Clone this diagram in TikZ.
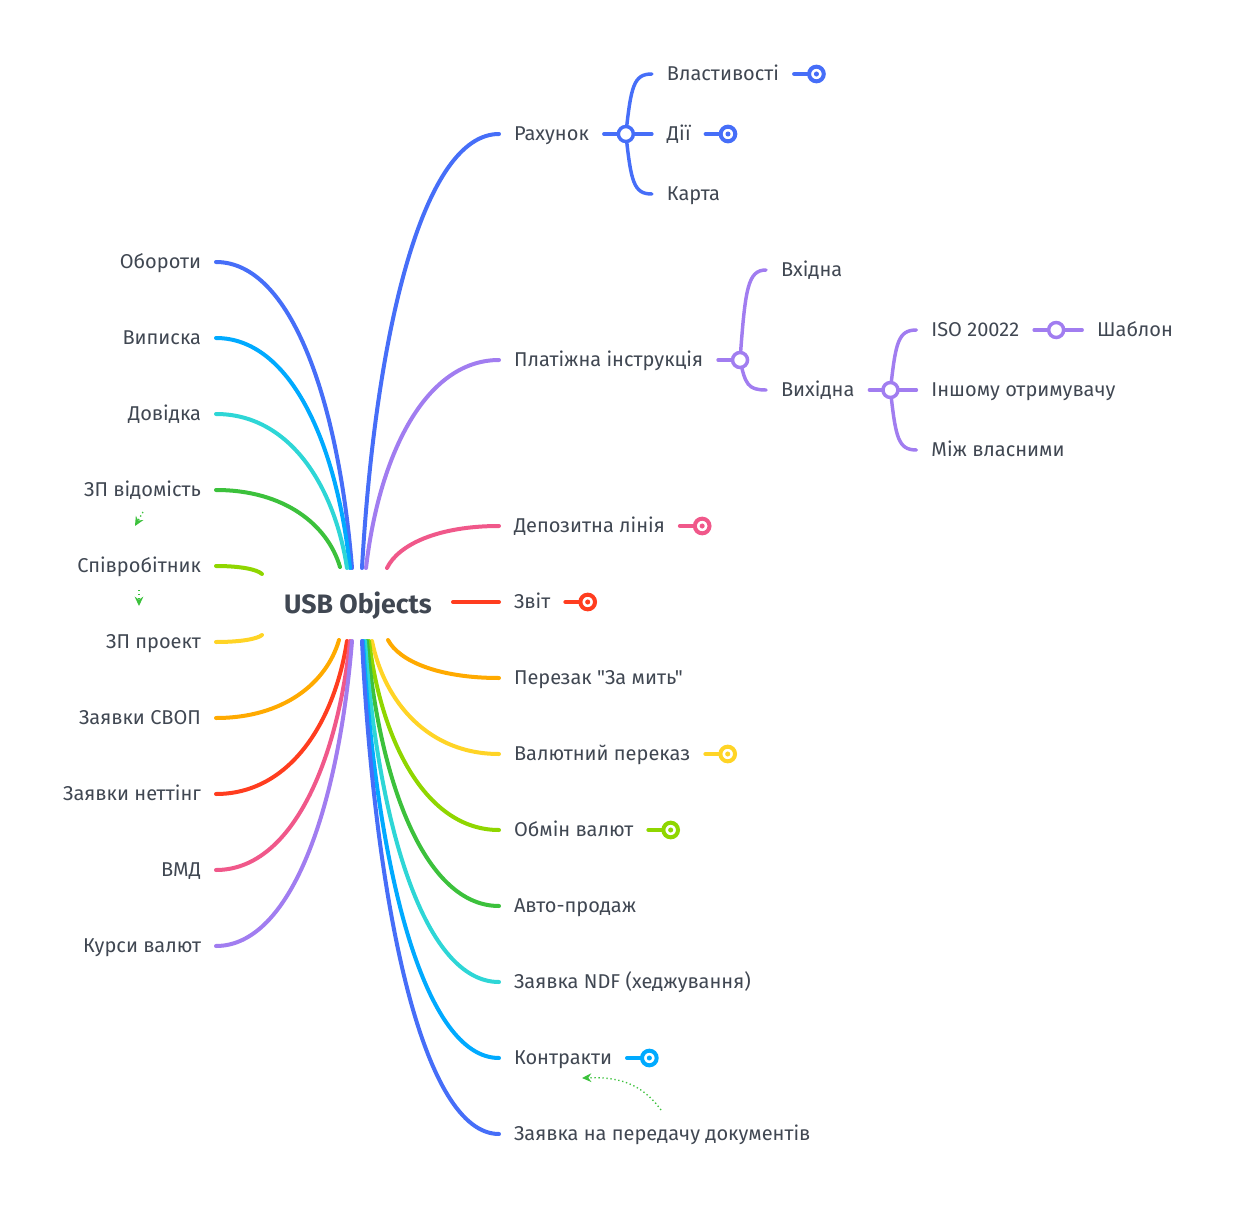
\documentclass[tikz,border=0pt]{standalone}
\usepackage{fontspec}
\setmainfont{Fira Sans}[Ligatures=TeXOff]
\usetikzlibrary{calc,arrows.meta}

\definecolor{mmblue}{RGB}{70,110,248}
\definecolor{mmsky}{RGB}{0,170,255}
\definecolor{mmteal}{RGB}{46,214,214}
\definecolor{mmgreen}{RGB}{60,193,60}
\definecolor{mmlime}{RGB}{143,214,0}
\definecolor{mmyellow}{RGB}{255,212,38}
\definecolor{mmorange}{RGB}{255,170,0}
\definecolor{mmred}{RGB}{255,61,31}
\definecolor{mmpink}{RGB}{240,88,138}
\definecolor{mmpurple}{RGB}{161,125,240}
\definecolor{txtgray}{RGB}{64,71,82}

\tikzset{
  branch/.style={line width=3pt, line cap=round},
  subbranch/.style={line width=2.6pt, line cap=round},
  topic/.style={font=\fontsize{15}{18}\selectfont, text=txtgray, inner xsep=11.25pt,
    inner ysep=0pt, outer sep=0pt, text height=10pt, text depth=0pt},
  rootnode/.style={font=\fontsize{20}{24}\selectfont\bfseries, text=txtgray,
    text height=13.5pt, text depth=0pt},
  hubring/.style={circle, fill=white, line width=2.6pt, minimum size=11.25pt,
    inner sep=0pt, outer sep=0pt},
  foldring/.style={circle, fill=white, line width=3pt, minimum size=11pt,
    inner sep=0pt, outer sep=0pt},
  rel/.style={mmgreen, line width=1pt, dotted, -{Stealth[length=7pt,width=6.5pt]}},
}

% curve from the root to a topic
\newcommand\branchto[3]{%
  \draw[branch, #1] let \p1=(#2), \p2=(#3) in
    (\p1) .. controls ({\x1+0.1*(\x2-\x1)}, {\y1+0.55*(\y2-\y1)})
              and ({\x2-0.55*(\x2-\x1)}, \y2) .. (\p2);}
% curve from a hub to a subtopic
\newcommand\subto[3]{%
  \draw[subbranch, #1] let \p1=(#2), \p2=(#3) in
    (\p1) .. controls ({\x1+0.2*(\x2-\x1)}, {\y1+0.8*(\y2-\y1)})
              and ({\x1+0.3*(\x2-\x1)}, \y2) .. (\p2);}
% collapsed marker after a topic
\newcommand\foldmark[3]{%
  \draw[branch, #1] (#2.east) -- ++(15,0) node[foldring, draw=#1, anchor=west] (#3) {};
  \fill[#1] (#3) circle (1.9pt);}

\begin{document}
\begin{tikzpicture}[x=0.75pt, y=-0.75pt]
  \useasboundingbox (0,0) rectangle (1233,1210);

  % Root
  \node[rootnode] (root) at (358,604) {USB Objects};

  % Ends of the branches at the root
  \coordinate (c-oborot) at (352,568);
  \coordinate (c-vypys) at (350,568);
  \coordinate (c-dovid) at (347,568);
  \coordinate (c-zpvid) at (340,567);
  \coordinate (c-spivr) at (262,574);
  \coordinate (c-zpproj) at (262,635);
  \coordinate (c-svop) at (339,640);
  \coordinate (c-net) at (347,641);
  \coordinate (c-vmd) at (350,641);
  \coordinate (c-kursy) at (352,641);
  \coordinate (c-rakh) at (362,568);
  \coordinate (c-plat) at (366,568);
  \coordinate (c-depoz) at (387,568);
  \coordinate (c-zvit) at (453,602);
  \coordinate (c-perez) at (388,640);
  \coordinate (c-valut) at (372,641);
  \coordinate (c-obmin) at (369,641);
  \coordinate (c-avto) at (367,641);
  \coordinate (c-ndf) at (365,641);
  \coordinate (c-kontr) at (363,641);
  \coordinate (c-doc) at (362,641);

  % Topics on the left
  \node[topic, anchor=east] (oboroty) at (216,262) {Обороти};
  \node[topic, anchor=east] (vypyska) at (216,338) {Виписка};
  \node[topic, anchor=east] (dovidka) at (216,414) {Довідка};
  \node[topic, anchor=east] (zpvid) at (216,490) {ЗП відомість};
  \node[topic, anchor=east] (spivr) at (216,566) {Співробітник};
  \node[topic, anchor=east] (zpproj) at (216,642) {ЗП проект};
  \node[topic, anchor=east] (svop) at (216,718) {Заявки СВОП};
  \node[topic, anchor=east] (netting) at (216,794) {Заявки неттінг};
  \node[topic, anchor=east] (vmd) at (216,870) {ВМД};
  \node[topic, anchor=east] (kursy) at (216,946) {Курси валют};

  % Topics on the right
  \node[topic, anchor=west] (rakhunok) at (499,134) {Рахунок};
  \node[topic, anchor=west] (plat) at (499,360) {Платіжна інструкція};
  \node[topic, anchor=west] (depoz) at (499,526) {Депозитна лінія};
  \node[topic, anchor=west] (zvit) at (499,602) {Звіт};
  \node[topic, anchor=west] (perez) at (499,678) {Перезак "За мить"};
  \node[topic, anchor=west] (valut) at (499,754) {Валютний переказ};
  \node[topic, anchor=west] (obmin) at (499,830) {Обмін валют};
  \node[topic, anchor=west] (avto) at (499,906) {Авто-продаж};
  \node[topic, anchor=west] (ndf) at (499,982) {Заявка NDF (хеджування)};
  \node[topic, anchor=west] (kontr) at (499,1058) {Контракти};
  \node[topic, anchor=west] (docs) at (499,1134) {Заявка на передачу документів};

  % Branches
  \branchto{mmblue}{c-oborot}{oboroty.east}
  \branchto{mmsky}{c-vypys}{vypyska.east}
  \branchto{mmteal}{c-dovid}{dovidka.east}
  \branchto{mmgreen}{c-zpvid}{zpvid.east}
  \branchto{mmlime}{c-spivr}{spivr.east}
  \branchto{mmyellow}{c-zpproj}{zpproj.east}
  \branchto{mmorange}{c-svop}{svop.east}
  \branchto{mmred}{c-net}{netting.east}
  \branchto{mmpink}{c-vmd}{vmd.east}
  \branchto{mmpurple}{c-kursy}{kursy.east}
  \branchto{mmblue}{c-rakh}{rakhunok.west}
  \branchto{mmpurple}{c-plat}{plat.west}
  \branchto{mmpink}{c-depoz}{depoz.west}
  \branchto{mmred}{c-zvit}{zvit.west}
  \branchto{mmorange}{c-perez}{perez.west}
  \branchto{mmyellow}{c-valut}{valut.west}
  \branchto{mmlime}{c-obmin}{obmin.west}
  \branchto{mmgreen}{c-avto}{avto.west}
  \branchto{mmteal}{c-ndf}{ndf.west}
  \branchto{mmsky}{c-kontr}{kontr.west}
  \branchto{mmblue}{c-doc}{docs.west}

  % Рахунок
  \coordinate (hubr) at ($(rakhunok.east)+(22,0)$);
  \node[topic, anchor=west] (vlast) at ($(hubr)+(26,-60)$) {Властивості};
  \node[topic, anchor=west] (dii) at ($(hubr)+(26,0)$) {Дії};
  \node[topic, anchor=west] (karta) at ($(hubr)+(26,60)$) {Карта};
  \draw[subbranch, mmblue] (rakhunok.east) -- (hubr);
  \subto{mmblue}{hubr}{vlast.west}
  \subto{mmblue}{hubr}{dii.west}
  \subto{mmblue}{hubr}{karta.west}
  \node[hubring, draw=mmblue] (hubr-o) at (hubr) {};
  \foldmark{mmblue}{vlast}{vlast-f}
  \foldmark{mmblue}{dii}{dii-f}

  % Платіжна інструкція
  \coordinate (hubp) at ($(plat.east)+(22,0)$);
  \node[topic, anchor=west] (vkhid) at ($(hubp)+(26,-90)$) {Вхідна};
  \node[topic, anchor=west] (vykhid) at ($(hubp)+(26,30)$) {Вихідна};
  \coordinate (hubv) at ($(vykhid.east)+(21,0)$);
  \node[topic, anchor=west] (iso) at ($(hubv)+(26,-60)$) {ISO 20022};
  \node[topic, anchor=west] (inshomu) at ($(hubv)+(26,0)$) {Іншому отримувачу};
  \node[topic, anchor=west] (mizh) at ($(hubv)+(26,60)$) {Між власними};
  \coordinate (hubi) at ($(iso.east)+(22,0)$);
  \node[topic, anchor=west] (shablon) at ($(hubi)+(26,0)$) {Шаблон};
  \draw[subbranch, mmpurple] (plat.east) -- (hubp);
  \subto{mmpurple}{hubp}{vkhid.west}
  \subto{mmpurple}{hubp}{vykhid.west}
  \draw[subbranch, mmpurple] (vykhid.east) -- (hubv);
  \subto{mmpurple}{hubv}{iso.west}
  \subto{mmpurple}{hubv}{inshomu.west}
  \subto{mmpurple}{hubv}{mizh.west}
  \draw[subbranch, mmpurple] (iso.east) -- (hubi) -- (shablon.west);
  \node[hubring, draw=mmpurple] (hubp-o) at (hubp) {};
  \node[hubring, draw=mmpurple] (hubv-o) at (hubv) {};
  \node[hubring, draw=mmpurple] (hubi-o) at (hubi) {};

  % Collapsed topics
  \foldmark{mmpink}{depoz}{depoz-f}
  \foldmark{mmred}{zvit}{zvit-f}
  \foldmark{mmyellow}{valut}{valut-f}
  \foldmark{mmlime}{obmin}{obmin-f}
  \foldmark{mmsky}{kontr}{kontr-f}

  % Relationships
  \coordinate (r1a) at (143,512);
  \coordinate (r1b) at (135,526);
  \coordinate (r2a) at (139,590);
  \coordinate (r2b) at (139,606);
  \coordinate (r3a) at (661,1110);
  \coordinate (r3b) at (582,1078);
  \draw[rel] (r1a) -- (r1b);
  \draw[rel] (r2a) -- (r2b);
  \draw[rel] (r3a) .. controls (640,1081) and (615,1077) .. (r3b);
\end{tikzpicture}
\end{document}
